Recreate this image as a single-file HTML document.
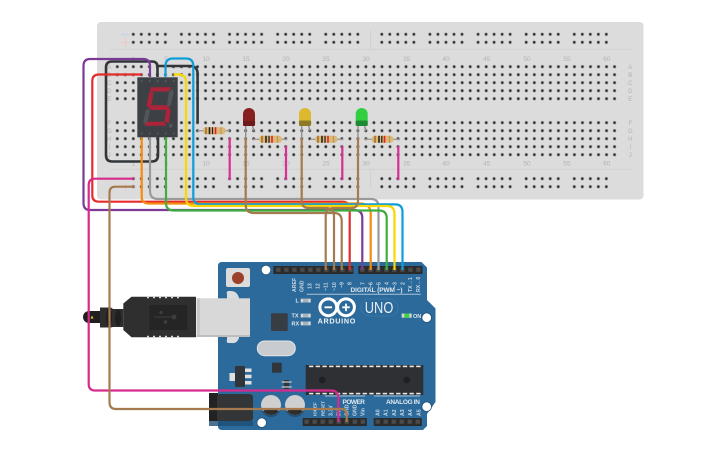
<!DOCTYPE html>
<html><head><meta charset="utf-8"><style>
html,body{margin:0;padding:0;background:#fff;width:725px;height:453px;overflow:hidden}
svg{display:block}
text{font-family:"Liberation Sans",sans-serif}
.w{fill:none;stroke-width:2.2}
.c{font-size:6.5px;fill:#b2b2b2;text-anchor:middle}
.l{font-size:6px;fill:#b2b2b2;text-anchor:middle}
.p{font-size:5.2px;fill:#c9d8e4;font-weight:bold;text-anchor:start}
.s{font-size:6.5px;fill:#dfe8ef;font-weight:bold}
</style></head><body>
<svg width="725" height="453" viewBox="0 0 725 453" xmlns="http://www.w3.org/2000/svg">
<defs>
<pattern id="h1" patternUnits="userSpaceOnUse" x="113.3" y="62.7" width="8.02" height="8"><circle cx="4.01" cy="4" r="2.1" fill="#cdcdcd"/><circle cx="4.01" cy="4" r="1.35" fill="#2e2e2e"/></pattern>
<pattern id="h2" patternUnits="userSpaceOnUse" x="113.3" y="118.7" width="8.02" height="8"><circle cx="4.01" cy="4" r="2.1" fill="#cdcdcd"/><circle cx="4.01" cy="4" r="1.35" fill="#2e2e2e"/></pattern>
<pattern id="r1" patternUnits="userSpaceOnUse" x="0.97" y="30.3" width="8.02" height="8"><circle cx="4.01" cy="4" r="2.1" fill="#cdcdcd"/><circle cx="4.01" cy="4" r="1.35" fill="#2e2e2e"/></pattern>
<pattern id="r2" patternUnits="userSpaceOnUse" x="0.97" y="174.7" width="8.02" height="8"><circle cx="4.01" cy="4" r="2.1" fill="#cdcdcd"/><circle cx="4.01" cy="4" r="1.35" fill="#2e2e2e"/></pattern>
<pattern id="r3" patternUnits="userSpaceOnUse" x="0.86" y="30.3" width="8.02" height="8"><circle cx="4.01" cy="4" r="2.1" fill="#cdcdcd"/><circle cx="4.01" cy="4" r="1.35" fill="#2e2e2e"/></pattern>
<pattern id="r4" patternUnits="userSpaceOnUse" x="0.86" y="174.7" width="8.02" height="8"><circle cx="4.01" cy="4" r="2.1" fill="#cdcdcd"/><circle cx="4.01" cy="4" r="1.35" fill="#2e2e2e"/></pattern>
<pattern id="pin" patternUnits="userSpaceOnUse" x="274.3" y="266" width="8.02" height="8"><rect width="8.02" height="8" fill="#2b2b2b"/><rect x="1.8" y="1.6" width="4.4" height="4.2" fill="#4a4a4a"/></pattern>
<pattern id="pin2" patternUnits="userSpaceOnUse" x="358.3" y="266" width="8.02" height="8"><rect width="8.02" height="8" fill="#2b2b2b"/><rect x="1.8" y="1.6" width="4.4" height="4.2" fill="#4a4a4a"/></pattern>
<pattern id="pin3" patternUnits="userSpaceOnUse" x="302.7" y="418" width="8.02" height="8"><rect width="8.02" height="8" fill="#2b2b2b"/><rect x="1.8" y="1.6" width="4.4" height="4.2" fill="#4a4a4a"/></pattern>
<pattern id="pin4" patternUnits="userSpaceOnUse" x="373.7" y="418" width="8.02" height="8"><rect width="8.02" height="8" fill="#2b2b2b"/><rect x="1.8" y="1.6" width="4.4" height="4.2" fill="#4a4a4a"/></pattern>
<pattern id="cd" patternUnits="userSpaceOnUse" x="308" y="365" width="6.7" height="30"><rect x="1" y="0.6" width="4.4" height="1.6" fill="#e8e8e8"/><rect x="1" y="27.8" width="4.4" height="1.6" fill="#e8e8e8"/></pattern>
</defs>

<!-- breadboard -->
<rect x="97" y="22" width="546.5" height="177.5" rx="4" fill="#dcdcdc"/>
<path d="M110.7 49.3H631M110.7 169.3H631M370.7 30V49M370.7 170V189" stroke="#d0d0d0" stroke-width="1" fill="none"/>
<rect x="113.3" y="62.7" width="505.3" height="40" fill="url(#h1)"/>
<rect x="113.3" y="118.7" width="505.3" height="40" fill="url(#h2)"/>
<g fill="url(#r1)">
<rect x="129.29" y="30.3" width="40.1" height="16"/><rect x="177.41" y="30.3" width="40.1" height="16"/><rect x="225.53" y="30.3" width="40.1" height="16"/><rect x="273.65" y="30.3" width="40.1" height="16"/><rect x="321.77" y="30.3" width="40.1" height="16"/>
</g>
<g fill="url(#r2)">
<rect x="129.29" y="174.7" width="40.1" height="16"/><rect x="177.41" y="174.7" width="40.1" height="16"/><rect x="225.53" y="174.7" width="40.1" height="16"/><rect x="273.65" y="174.7" width="40.1" height="16"/><rect x="321.77" y="174.7" width="40.1" height="16"/>
</g>
<g fill="url(#r3)">
<rect x="377.8" y="30.3" width="40.1" height="16"/><rect x="425.92" y="30.3" width="40.1" height="16"/><rect x="474.04" y="30.3" width="40.1" height="16"/><rect x="522.16" y="30.3" width="40.1" height="16"/><rect x="570.28" y="30.3" width="40.1" height="16"/>
</g>
<g fill="url(#r4)">
<rect x="377.8" y="174.7" width="40.1" height="16"/><rect x="425.92" y="174.7" width="40.1" height="16"/><rect x="474.04" y="174.7" width="40.1" height="16"/><rect x="522.16" y="174.7" width="40.1" height="16"/><rect x="570.28" y="174.7" width="40.1" height="16"/>
</g>
<path d="M121 34.7h9M121 178.7h9" stroke="#bcd3e8" stroke-width="1"/>
<path d="M121 42.7h9M125.5 38.5v8.5M121 186.7h9M125.5 182.5v8.5" stroke="#eec4c4" stroke-width="1"/>
<g class="c">
<text x="133.3" y="61">1</text><text x="166" y="61">5</text><text x="206" y="61">10</text><text x="246" y="61">15</text><text x="286" y="61">20</text><text x="326" y="61">25</text><text x="366" y="61">30</text><text x="406.7" y="61">35</text><text x="446" y="61">40</text><text x="486.7" y="61">45</text><text x="527" y="61">50</text><text x="567" y="61">55</text><text x="606.7" y="61">60</text>
<text x="133.3" y="165.5">1</text><text x="166" y="165.5">5</text><text x="206" y="165.5">10</text><text x="246" y="165.5">15</text><text x="286" y="165.5">20</text><text x="326" y="165.5">25</text><text x="366" y="165.5">30</text><text x="406.7" y="165.5">35</text><text x="446" y="165.5">40</text><text x="486.7" y="165.5">45</text><text x="527" y="165.5">50</text><text x="567" y="165.5">55</text><text x="606.7" y="165.5">60</text>
</g>
<g class="l">
<text x="109.3" y="69">A</text><text x="109.3" y="77">B</text><text x="109.3" y="85">C</text><text x="109.3" y="93">D</text><text x="109.3" y="101">E</text><text x="109.3" y="125">F</text><text x="109.3" y="133">G</text><text x="109.3" y="141">H</text><text x="109.3" y="149">I</text><text x="109.3" y="157">J</text>
<text x="630.3" y="69">A</text><text x="630.3" y="77">B</text><text x="630.3" y="85">C</text><text x="630.3" y="93">D</text><text x="630.3" y="101">E</text><text x="630.3" y="125">F</text><text x="630.3" y="133">G</text><text x="630.3" y="141">H</text><text x="630.3" y="149">I</text><text x="630.3" y="157">J</text>
</g>

<!-- arduino board -->
<path d="M222 262H421.5L427 267.5V300L435.5 308.5V402L427 414V426L423 430H222Q218 430 218 426V266Q218 262 222 262Z" fill="#2c6a9b"/>
<rect x="273.3" y="266" width="80.2" height="8" fill="url(#pin)"/>
<rect x="358.3" y="266" width="64.2" height="8" fill="url(#pin2)"/>
<rect x="302.7" y="418" width="64.2" height="8" fill="url(#pin3)"/>
<rect x="373.7" y="418" width="48.1" height="8" fill="url(#pin4)"/>
<!-- reset -->
<rect x="226" y="268" width="24" height="19" rx="2" fill="#dcdcdc"/>
<circle cx="238" cy="278" r="6" fill="#9c3f2b"/>
<!-- mount holes -->
<g fill="#fff" stroke="#1f4f76" stroke-width="0.8">
<circle cx="266" cy="270" r="4.8"/><circle cx="426.7" cy="317.7" r="4.8"/><circle cx="426.7" cy="406.7" r="4.8"/><circle cx="261.7" cy="422.7" r="4.8"/>
</g>
<!-- pin labels -->
<g class="p">
<text transform="translate(296 292) rotate(-90)">AREF</text>
<text transform="translate(303.7 292) rotate(-90)">GND</text>
<text transform="translate(311.3 289) rotate(-90)">13</text>
<text transform="translate(319.7 289) rotate(-90)">12</text>
<text transform="translate(327.7 291) rotate(-90)">~11</text>
<text transform="translate(336 291) rotate(-90)">~10</text>
<text transform="translate(343.7 288) rotate(-90)">~9</text>
<text transform="translate(351.7 285) rotate(-90)">8</text>
<text transform="translate(364.3 285) rotate(-90)">7</text>
<text transform="translate(372.7 288) rotate(-90)">~6</text>
<text transform="translate(380.3 288) rotate(-90)">~5</text>
<text transform="translate(388.7 285) rotate(-90)">4</text>
<text transform="translate(396.3 288) rotate(-90)">~3</text>
<text transform="translate(404.3 285) rotate(-90)">2</text>
<text transform="translate(412 292) rotate(-90)">TX→1</text>
<text transform="translate(420 292) rotate(-90)">RX←0</text>
<text transform="translate(316.3 416) rotate(-90)" style="font-size:4.5px">IOREF</text>
<text transform="translate(324.3 416) rotate(-90)" style="font-size:4.5px">RESET</text>
<text transform="translate(332.7 416) rotate(-90)">3.3V</text>
<text transform="translate(340.3 416) rotate(-90)">5V</text>
<text transform="translate(348.7 416) rotate(-90)">GND</text>
<text transform="translate(356.3 416) rotate(-90)">GND</text>
<text transform="translate(364.3 416) rotate(-90)">Vin</text>
<text transform="translate(379.7 416) rotate(-90)">A0</text>
<text transform="translate(387.7 416) rotate(-90)">A1</text>
<text transform="translate(396 416) rotate(-90)">A2</text>
<text transform="translate(404 416) rotate(-90)">A3</text>
<text transform="translate(412 416) rotate(-90)">A4</text>
<text transform="translate(420.3 416) rotate(-90)">A5</text>
</g>
<text class="s" x="350.5" y="292" textLength="52">DIGITAL (PWM ~)</text>
<path d="M306.7 294.3H420.7M325 396H365M374 396H420" stroke="#a9c2d6" stroke-width="1"/>
<text class="s" x="342.5" y="404" textLength="22.5">POWER</text>
<text class="s" x="386" y="404" textLength="34">ANALOG IN</text>
<!-- small LEDs -->
<g fill="#d9d9d9">
<rect x="300.7" y="298.7" width="10" height="3.8"/><rect x="300.7" y="313.7" width="10" height="3.8"/><rect x="300.7" y="321.5" width="10" height="3.8"/>
</g>
<rect x="303" y="298.7" width="5.4" height="3.8" fill="#a8b4bc"/><rect x="303" y="313.7" width="5.4" height="3.8" fill="#a8b4bc"/><rect x="303" y="321.5" width="5.4" height="3.8" fill="#a8b4bc"/>
<g class="s" style="font-size:5.5px">
<text x="295.5" y="302.5">L</text><text x="291.5" y="317.7">TX</text><text x="291.5" y="325.5">RX</text><text x="413" y="318">ON</text>
</g>
<rect x="401.7" y="313.5" width="10" height="4.2" fill="#cfd8cf"/><rect x="404.3" y="313.5" width="5" height="4.2" fill="#3fd23f"/>
<!-- logo -->
<g fill="none" stroke="#fff" stroke-width="3">
<circle cx="328.3" cy="307.3" r="8.4"/><circle cx="346" cy="307.3" r="8.4"/>
</g>
<path d="M324.5 307.3h7.5M342.3 307.3h7.5M346 303.6v7.5" stroke="#fff" stroke-width="1.8"/>
<text x="336.8" y="323.5" text-anchor="middle" font-size="7.2" font-weight="bold" fill="#eef3f7" letter-spacing="0.7">ARDUINO</text>
<text x="364.8" y="313" font-size="15.5" fill="#e8eff5" textLength="28.5" lengthAdjust="spacingAndGlyphs">UNO</text>
<rect x="361" y="299" width="37" height="17" rx="8.5" fill="none" stroke="#3d7aa9" stroke-width="0.8"/>
<!-- components -->
<rect x="271" y="313.3" width="16.7" height="17.7" rx="1" fill="#373d42"/>
<rect x="257.3" y="341" width="38" height="14.7" rx="7.3" fill="#c8ccd0" stroke="#e2e4e6" stroke-width="1"/>
<rect x="272" y="362.7" width="9.7" height="10" fill="#2f353a"/>
<rect x="229.5" y="373" width="6" height="8" fill="#e0e0e0"/>
<rect x="245" y="368.5" width="6.5" height="3.5" fill="#e0e0e0"/><rect x="245" y="374.7" width="6.5" height="3.5" fill="#e0e0e0"/><rect x="245" y="381" width="6.5" height="3.5" fill="#e0e0e0"/>
<rect x="235" y="366" width="10" height="21" rx="1" fill="#2f353a"/>
<rect x="284" y="380" width="5" height="9" fill="#2f353a"/><path d="M281.7 382h10M281.7 387h10" stroke="#ccc" stroke-width="1.2"/>
<rect x="305.7" y="365" width="117.6" height="30" fill="#2f3033"/>
<rect x="308" y="365" width="113" height="30" fill="url(#cd)"/>
<circle cx="322.3" cy="380" r="3.3" fill="#1e1f21"/><circle cx="406.7" cy="380" r="3.3" fill="#1e1f21"/>
<!-- caps -->
<circle cx="271" cy="407" r="10" fill="#1f4f76"/><circle cx="295" cy="407" r="10" fill="#1f4f76"/>
<circle cx="271" cy="405" r="10" fill="#cfcfcf"/><circle cx="295" cy="405" r="10" fill="#cfcfcf"/>
<path d="M263 411a10 10 0 0 0 16 0l-2.5-1.5h-11zM287 411a10 10 0 0 0 16 0l-2.5-1.5h-11z" fill="#2d2d2d"/>
<!-- jack -->
<rect x="209" y="393" width="9" height="28" fill="#222"/>
<rect x="217" y="394" width="36" height="27" rx="3" fill="#333537"/>
<rect x="209" y="421" width="44" height="5" fill="#1f4f76" opacity="0.8"/>
<!-- USB -->
<path d="M229 294q-1-2 1-3h3q6 0 8 7v40q-2 6-8 5h-3q-2-1-1-3z" fill="#d9dde0" transform="translate(-2 0)"/>
<rect x="196.7" y="298.3" width="53.3" height="38.4" fill="#d8d8d8"/>
<rect x="196.7" y="298.3" width="3" height="38.4" fill="#c6c6c6"/>
<rect x="196.7" y="335" width="53.3" height="2" fill="#bdbdbd"/>
<path d="M123.3 303.5L131.5 296.7H196V337.3H131.5L123.3 330Z" fill="#2f2f2f"/>
<rect x="149.3" y="305" width="38" height="25" fill="#252525"/>
<path d="M154 317h19" stroke="#3e3e3e" stroke-width="1"/><circle cx="174" cy="317" r="2.4" fill="#3e3e3e"/><circle cx="161" cy="312.5" r="1.8" fill="#3e3e3e"/><circle cx="165.5" cy="322" r="1.8" fill="#3e3e3e"/>
<path d="M147 296.7v1.5h2v-1.5zM153 296.7v1.5h2v-1.5zM159 296.7v1.5h2v-1.5zM165 296.7v1.5h2v-1.5zM171 296.7v1.5h2v-1.5zM177 296.7v1.5h2v-1.5zM147 337.3v-1.5h2v1.5zM153 337.3v-1.5h2v1.5zM159 337.3v-1.5h2v1.5zM165 337.3v-1.5h2v1.5zM171 337.3v-1.5h2v1.5zM177 337.3v-1.5h2v1.5z" fill="#dcdcdc"/>
<path d="M100 307.5L111 307.5L113 309H123.3V327H113L111 327.5L100 327.5Z" fill="#2d2d2d"/>
<ellipse cx="109" cy="317.5" rx="3" ry="9" fill="#1f1f1f"/><ellipse cx="118" cy="318" rx="3" ry="8" fill="#1f1f1f"/>
<path d="M100 311H89a6 6 0 0 0 0 12H100Z" fill="#1f1f1f"/>
<path d="M90.5 318.5l1.5-3 1.5 3z" fill="#e8d020"/>

<!-- wires -->
<g class="w">
<path stroke="#333639" style="stroke-width:2.6" d="M157.5 77V67Q157.5 61.5 152 61.5H112Q106 61.5 106 67.5V155Q106 161.5 112 161.5H152Q158 161.5 158 155V137"/>
<path stroke="#333639" style="stroke-width:2.6" d="M157.5 66H190Q197.6 66 197.6 74V123"/>
<path stroke="#7b3a96" d="M150 77V66Q150 59 143 59H90Q83.5 59 83.5 66V203Q83.5 210 90 210H354Q362.3 210 362.3 218V270"/>
<path stroke="#e52b2b" d="M142 74.5H99Q92.3 74.5 92.3 81V195Q92.3 201.7 99 201.7H342Q349.7 201.7 349.7 209V270"/>
<path stroke="#9a9a9a" d="M150 137V191Q150 199 158 199H371Q378.5 199 378.5 207V270"/>
<path stroke="#f58a0c" d="M141.7 137V197Q141.7 203.5 149 203.5H360Q370.7 203.5 370.7 214V270"/>
<path stroke="#0d9ed9" d="M165.5 77V66Q165.5 58.5 173 58.5H186Q193.3 58.5 193.3 66V197Q193.3 204.4 201 204.4H395Q402.5 204.4 402.5 212V270"/>
<path stroke="#f7d800" d="M173.5 74.5H178Q186 74.5 186 82V198Q186 206 194 206H387Q394.5 206 394.5 214V270"/>
<path stroke="#3fae3f" d="M166 137V203Q166 210.5 174 210.5H379Q386.7 210.5 386.7 218V270"/>
<path stroke="#a57a4e" d="M245.7 138V205Q245.7 213 254 213H334Q341.7 213 341.7 221V270"/>
<path stroke="#a57a4e" d="M301.7 138V201Q301.7 208 309 208H326Q334 208 334 216V270"/>
<path stroke="#a57a4e" d="M358 138V201Q358 208 351 208H334Q325.7 208 325.7 216V270"/>
<path stroke="#d62a8c" d="M134 178.7H95Q88.7 178.7 88.7 185V384Q88.7 390.5 95 390.5H331Q338.3 390.5 338.3 398V422"/>
<path stroke="#a57a4e" d="M134.3 186.7H115Q109.5 186.7 109.5 193V402Q109.5 409 116 409H341Q346.7 409 346.7 415V422"/>
<path stroke="#d92f94" d="M229.7 137.7V180M286 146V180M342.3 146V180M398.3 146V180"/>
</g>

<!-- resistors -->
<g>
<path d="M197.6 130.7H229.7" stroke="#9d9d9d" stroke-width="1.4"/>
<rect x="203" y="127.2" width="22.7" height="7" rx="3.2" fill="#dcb778"/>
<path d="M206 127.2v7" stroke="#a5702c" stroke-width="1.6"/><path d="M209.5 127.2v7" stroke="#222" stroke-width="1.6"/><path d="M212.5 127.2v7" stroke="#222" stroke-width="1.3"/><path d="M215.5 127.2v7" stroke="#e52020" stroke-width="1.6"/><path d="M221 127.2v7" stroke="#b49a5a" stroke-width="1.2"/>
</g>
<g>
<path d="M253 139.3H287" stroke="#9d9d9d" stroke-width="1.4"/>
<rect x="259" y="135.8" width="23" height="7" rx="3.2" fill="#dcb778"/>
<path d="M262 135.8v7" stroke="#a5702c" stroke-width="1.6"/><path d="M266 135.8v7" stroke="#222" stroke-width="1.6"/><path d="M269 135.8v7" stroke="#222" stroke-width="1.3"/><path d="M272 135.8v7" stroke="#e52020" stroke-width="1.6"/><path d="M277.5 135.8v7" stroke="#b49a5a" stroke-width="1.2"/>
</g>
<g>
<path d="M310 139.3H343" stroke="#9d9d9d" stroke-width="1.4"/>
<rect x="315" y="135.8" width="22.5" height="7" rx="3.2" fill="#dcb778"/>
<path d="M318 135.8v7" stroke="#a5702c" stroke-width="1.6"/><path d="M322 135.8v7" stroke="#222" stroke-width="1.6"/><path d="M325 135.8v7" stroke="#222" stroke-width="1.3"/><path d="M328 135.8v7" stroke="#e52020" stroke-width="1.6"/><path d="M333.5 135.8v7" stroke="#b49a5a" stroke-width="1.2"/>
</g>
<g>
<path d="M365 139.3H400" stroke="#9d9d9d" stroke-width="1.4"/>
<rect x="371.5" y="135.8" width="22" height="7" rx="3.2" fill="#dcb778"/>
<path d="M375 135.8v7" stroke="#a5702c" stroke-width="1.6"/><path d="M379 135.8v7" stroke="#222" stroke-width="1.6"/><path d="M381.8 135.8v7" stroke="#222" stroke-width="1.3"/><path d="M384.5 135.8v7" stroke="#e52020" stroke-width="1.6"/><path d="M389.5 135.8v7" stroke="#b49a5a" stroke-width="1.2"/>
</g>

<!-- LEDs -->
<g>
<path d="M245.7 124V138M252 124L254 131" stroke="#8f8f8f" stroke-width="1.4" fill="none"/>
<path d="M243 125V114a6 6 0 0 1 12 0V125Z" fill="#85201f"/>
<rect x="243" y="121" width="12" height="5" rx="1" fill="#6e1a1a"/>
</g>
<g>
<path d="M301.7 124V138M308 124L310 131" stroke="#8f8f8f" stroke-width="1.4" fill="none"/>
<path d="M299 125V114a6 6 0 0 1 12 0V125Z" fill="#dcb92f"/>
<rect x="299" y="120.5" width="12" height="5.5" rx="1" fill="#8c7a25"/>
</g>
<g>
<path d="M358 124V138M364 124L366 131" stroke="#8f8f8f" stroke-width="1.4" fill="none"/>
<path d="M355.7 125V114a6 6 0 0 1 12 0V125Z" fill="#32cf41"/>
<rect x="355.7" y="120.5" width="12" height="5.5" rx="1" fill="#1f8a33"/>
</g>

<!-- 7-seg display -->
<rect x="137.3" y="77.3" width="40.4" height="60" fill="#3d4145"/>
<g fill="#51565a">
<circle cx="141.7" cy="81" r="1.1"/><circle cx="149.7" cy="81" r="1.1"/><circle cx="157.7" cy="81" r="1.1"/><circle cx="165.7" cy="81" r="1.1"/><circle cx="173.7" cy="81" r="1.1"/>
<circle cx="141.7" cy="133.5" r="1.1"/><circle cx="149.7" cy="133.5" r="1.1"/><circle cx="157.7" cy="133.5" r="1.1"/><circle cx="165.7" cy="133.5" r="1.1"/><circle cx="173.7" cy="133.5" r="1.1"/>
<polygon points="172.5,89 173.5,92 171,105 168.5,107 167,105 169,92"/>
<polygon points="148,109 150,111 147.5,122 145,124.5 143.3,122 145.5,110.5"/>
<circle cx="170.7" cy="125.7" r="2"/>
</g>
<g fill="#ad2339">
<polygon points="151,87.3 171.7,87.3 168.7,91.5 149.7,91.5"/>
<polygon points="149.3,92 153.5,92.3 151.7,104.5 148.5,107.5 146.5,105.5"/>
<polygon points="148.5,107.5 151,105.3 167,105.3 169.3,107.5 166.5,110 150.5,110"/>
<polygon points="169.5,108 170.7,110 168.7,123.5 164.5,121.5 166,110.5"/>
<polygon points="146.5,121.7 164,121.7 166.5,125.7 144.5,125.7"/>
</g>
</svg>
</body></html>
